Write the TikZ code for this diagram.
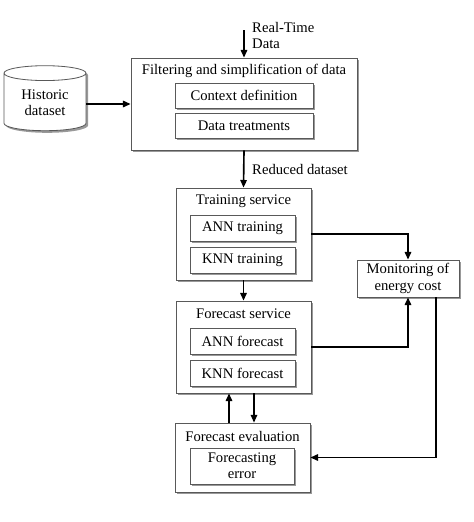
\documentclass[tikz,border=0pt]{standalone}
\usepackage{fontspec}
\setmainfont{Liberation Serif}
\usetikzlibrary{shapes.geometric,shadows,arrows.meta}

\tikzset{
  box/.style={draw=black!65, line width=0.7pt, fill=white, inner sep=1pt, align=center,
    drop shadow={shadow xshift=1.8pt, shadow yshift=-1.8pt, fill=black!40, opacity=1}},
  title/.style={inner sep=0pt, align=center},
  flow/.style={-{Triangle[length=6.5pt,width=5.5pt]}, line width=1.4pt},
}

\begin{document}
\begin{tikzpicture}[x=0.03cm,y=-0.03cm,font=\fontsize{12.5}{14}\selectfont]
\useasboundingbox (0,0) rectangle (474,522);
% data preparation
\node[box, cylinder, shape border rotate=90, aspect=0.3, minimum width=2.46cm, minimum height=1.95cm] (hist) at (45,103) {Historic\\dataset};
\node[box, minimum width=6.78cm, minimum height=2.76cm] (filter) at (244,104) {};
\node[title] (filtert) at (244,71) {Filtering and simplification of data};
\node[box, minimum width=4.14cm, minimum height=0.75cm] (ctx) at (244,95.5) {Context definition};
\node[box, minimum width=4.14cm, minimum height=0.75cm] (treat) at (244,125.5) {Data treatments};
% training
\node[box, minimum width=4.05cm, minimum height=2.76cm] (train) at (243.5,234) {};
\node[title] (traint) at (243.5,201) {Training service};
\node[box, minimum width=3.15cm, minimum height=0.78cm] (anntr) at (242.5,228) {ANN training};
\node[box, minimum width=3.15cm, minimum height=0.78cm] (knntr) at (242.5,260) {KNN training};
% forecast
\node[box, minimum width=4.05cm, minimum height=2.76cm] (fore) at (243.5,347) {};
\node[title] (foret) at (243.5,314) {Forecast service};
\node[box, minimum width=3.15cm, minimum height=0.78cm] (annfc) at (242.5,341) {ANN forecast};
\node[box, minimum width=3.15cm, minimum height=0.78cm] (knnfc) at (242.5,373) {KNN forecast};
% evaluation
\node[box, minimum width=4.05cm, minimum height=2.07cm] (eval) at (242.5,457.5) {};
\node[title] (evalt) at (242.5,436) {Forecast evaluation};
\node[box, minimum width=3.12cm, minimum height=1.08cm] (err) at (242,466) {Forecasting\\error};
\node[box, minimum width=3.06cm, minimum height=1.11cm] (mon) at (408,278.5) {Monitoring of\\energy cost};

% connectors
\coordinate (rt) at (244,30);
\node[title, anchor=north west, align=left] (rtl) at (252,22) {Real-Time\\Data};
\draw[flow] (rt) -- (filter.north);
\draw[flow] (hist.east |- filter.west) -- (filter.west);
\draw[flow] (filter.south) -- (train.north);
\node[title, anchor=west] (redl) at (252,169) {Reduced dataset};
\draw[flow] (train.south) -- (fore.north);
\draw[flow] (train.east) -| (mon.north);
\draw[flow] (fore.east) -| (mon.south);
\draw[flow] ([xshift=0.84cm]mon.south) |- (eval.east);
\draw[flow] ([xshift=-0.405cm]eval.north) -- ([xshift=-0.405cm]eval.north |- fore.south);
\draw[flow, line width=1pt] ([xshift=0.345cm]eval.north |- fore.south) -- ([xshift=0.345cm]eval.north);
\end{tikzpicture}
\end{document}
